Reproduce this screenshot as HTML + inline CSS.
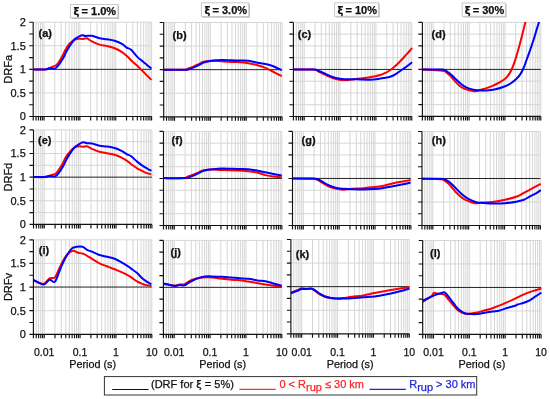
<!DOCTYPE html><html><head><meta charset="utf-8"><title>DRF figure</title><style>html,body{margin:0;padding:0;background:#fff;}svg{display:block;}text{font-family:'Liberation Sans', Arial, sans-serif;stroke-width:0.25px;}</style></head><body>
<svg width="550" height="399" viewBox="0 0 550 399">
<rect width="550" height="399" fill="#fff"/>
<path d="M36.04 22.2V116.5M38.44 22.2V116.5M40.52 22.2V116.5M42.36 22.2V116.5M44 22.2V116.5M54.79 22.2V116.5M61.11 22.2V116.5M65.59 22.2V116.5M69.07 22.2V116.5M71.91 22.2V116.5M74.31 22.2V116.5M76.39 22.2V116.5M78.22 22.2V116.5M79.86 22.2V116.5M90.66 22.2V116.5M96.98 22.2V116.5M101.46 22.2V116.5M104.94 22.2V116.5M107.78 22.2V116.5M110.18 22.2V116.5M112.26 22.2V116.5M114.09 22.2V116.5M115.73 22.2V116.5M126.53 22.2V116.5M132.85 22.2V116.5M137.33 22.2V116.5M140.8 22.2V116.5M143.64 22.2V116.5M146.04 22.2V116.5M148.12 22.2V116.5M149.96 22.2V116.5M151.6 22.2V116.5M33.2 92.92H151.6M33.2 45.78H151.6M33.2 22.2H151.6" stroke="#d6d6d6" stroke-width="1" fill="none"/>
<path d="M33.2 69.35H151.6" stroke="#222" stroke-width="1" fill="none"/>
<clipPath id="cpa"><rect x="33.2" y="21.7" width="119.4" height="95.3"/></clipPath>
<g clip-path="url(#cpa)">
<path d="M33.2 69.4C35.17 69.4 41.9 69.78 45 69.4C48.1 69.02 49.83 67.9 51.8 67.1C53.77 66.3 55.13 66.27 56.8 64.6C58.47 62.93 60.33 59.6 61.8 57.1C63.27 54.6 64.35 51.8 65.6 49.6C66.85 47.4 68.05 45.42 69.3 43.9C70.55 42.38 71.83 41.33 73.1 40.5C74.37 39.67 75.23 39.17 76.9 38.9C78.57 38.63 81.43 39 83.1 38.9C84.77 38.8 85.43 37.88 86.9 38.3C88.37 38.72 89.8 40.35 91.9 41.4C94 42.45 96.98 43.82 99.5 44.6C102.02 45.38 104.48 45.48 107 46.1C109.52 46.72 112.1 47.3 114.6 48.3C117.1 49.3 119.75 50.6 122 52.1C124.25 53.6 126.33 55.68 128.1 57.3C129.87 58.92 131.1 60.42 132.6 61.8C134.1 63.18 135.6 64.22 137.1 65.6C138.6 66.98 140.1 68.6 141.6 70.1C143.1 71.6 144.47 72.97 146.1 74.6C147.73 76.23 150.52 79.02 151.4 79.9" stroke="#f00" stroke-width="2" fill="none" stroke-linejoin="round" stroke-linecap="butt"/>
<path d="M33.2 69.4C35.25 69.4 42.82 69.57 45.5 69.4C48.18 69.23 47.73 68.53 49.3 68.4C50.87 68.27 53.45 69.02 54.9 68.6C56.35 68.18 56.63 67.62 58 65.9C59.37 64.18 61.63 60.82 63.1 58.3C64.57 55.78 65.55 53.08 66.8 50.8C68.05 48.52 69.33 46.48 70.6 44.6C71.87 42.72 73.35 40.65 74.4 39.5C75.45 38.35 75.65 38.42 76.9 37.7C78.15 36.98 80.45 35.48 81.9 35.2C83.35 34.92 83.93 35.9 85.6 36C87.27 36.1 89.58 35.43 91.9 35.8C94.22 36.17 96.98 37.62 99.5 38.2C102.02 38.78 104.48 38.87 107 39.3C109.52 39.73 112.1 40.05 114.6 40.8C117.1 41.55 120 42.67 122 43.8C124 44.93 125.08 46.6 126.6 47.6C128.12 48.6 129.35 48.3 131.1 49.8C132.85 51.3 135.1 54.6 137.1 56.6C139.1 58.6 140.72 59.8 143.1 61.8C145.48 63.8 150.02 67.47 151.4 68.6" stroke="#00f" stroke-width="2" fill="none" stroke-linejoin="round" stroke-linecap="butt"/>
</g>
<path d="M33.2 22.2V116.5M33.2 116.5H151.6M29.2 116.5H33.2M29.2 104.71H33.2M29.2 92.92H33.2M29.2 81.14H33.2M29.2 69.35H33.2M29.2 57.56H33.2M29.2 45.78H33.2M29.2 33.99H33.2M29.2 22.2H33.2M33.2 116.5V120.5M36.04 116.5V120.5M38.44 116.5V120.5M40.52 116.5V120.5M42.36 116.5V120.5M44 116.5V120.5M54.79 116.5V120.5M61.11 116.5V120.5M65.59 116.5V120.5M69.07 116.5V120.5M71.91 116.5V120.5M74.31 116.5V120.5M76.39 116.5V120.5M78.22 116.5V120.5M79.86 116.5V120.5M90.66 116.5V120.5M96.98 116.5V120.5M101.46 116.5V120.5M104.94 116.5V120.5M107.78 116.5V120.5M110.18 116.5V120.5M112.26 116.5V120.5M114.09 116.5V120.5M115.73 116.5V120.5M126.53 116.5V120.5M132.85 116.5V120.5M137.33 116.5V120.5M140.8 116.5V120.5M143.64 116.5V120.5M146.04 116.5V120.5M148.12 116.5V120.5M149.96 116.5V120.5M151.6 116.5V120.5" stroke="#111" stroke-width="1.15" fill="none"/>
<text x="38.6" y="37.3" font-size="11" font-weight="bold" fill="#111" stroke="#111">(a)</text>
<path d="M166.54 22.5V116.8M168.94 22.5V116.8M171.02 22.5V116.8M172.86 22.5V116.8M174.5 22.5V116.8M185.29 22.5V116.8M191.61 22.5V116.8M196.09 22.5V116.8M199.57 22.5V116.8M202.41 22.5V116.8M204.81 22.5V116.8M206.89 22.5V116.8M208.72 22.5V116.8M210.36 22.5V116.8M221.16 22.5V116.8M227.48 22.5V116.8M231.96 22.5V116.8M235.44 22.5V116.8M238.28 22.5V116.8M240.68 22.5V116.8M242.76 22.5V116.8M244.59 22.5V116.8M246.23 22.5V116.8M257.03 22.5V116.8M263.35 22.5V116.8M267.83 22.5V116.8M271.3 22.5V116.8M274.14 22.5V116.8M276.54 22.5V116.8M278.62 22.5V116.8M280.46 22.5V116.8M282.1 22.5V116.8M163.7 93.22H282.1M163.7 46.08H282.1M163.7 22.5H282.1" stroke="#d6d6d6" stroke-width="1" fill="none"/>
<path d="M163.7 69.65H282.1" stroke="#222" stroke-width="1" fill="none"/>
<clipPath id="cpb"><rect x="163.7" y="22" width="119.4" height="95.3"/></clipPath>
<g clip-path="url(#cpb)">
<path d="M163.7 69.7C167.35 69.7 181.72 69.83 185.6 69.7C189.48 69.57 185.75 69.38 187 68.9C188.25 68.42 191.08 67.65 193.1 66.8C195.12 65.95 197.35 64.63 199.1 63.8C200.85 62.97 201.35 62.3 203.6 61.8C205.85 61.3 209.37 60.87 212.6 60.8C215.83 60.73 218.85 61.18 223 61.4C227.15 61.62 233.27 61.8 237.5 62.1C241.73 62.4 245.03 62.68 248.4 63.2C251.77 63.72 254.85 64.43 257.7 65.2C260.55 65.97 263.17 66.83 265.5 67.8C267.83 68.77 268.98 69.62 271.7 71C274.42 72.38 280.12 75.25 281.8 76.1" stroke="#f00" stroke-width="2" fill="none" stroke-linejoin="round" stroke-linecap="butt"/>
<path d="M163.7 69.8C167.35 69.8 181.2 69.95 185.6 69.8C190 69.65 188.6 69.35 190.1 68.9C191.6 68.45 193.1 67.77 194.6 67.1C196.1 66.43 197.6 65.65 199.1 64.9C200.6 64.15 202.1 63.18 203.6 62.6C205.1 62.02 206.1 61.78 208.1 61.4C210.1 61.02 213.12 60.55 215.6 60.3C218.08 60.05 219.35 59.87 223 59.9C226.65 59.93 233.27 60.35 237.5 60.5C241.73 60.65 245.03 60.43 248.4 60.8C251.77 61.17 254.85 62.17 257.7 62.7C260.55 63.23 262.9 63.4 265.5 64C268.1 64.6 270.58 65.27 273.3 66.3C276.02 67.33 280.38 69.55 281.8 70.2" stroke="#00f" stroke-width="2" fill="none" stroke-linejoin="round" stroke-linecap="butt"/>
</g>
<path d="M163.7 22.5V116.8M163.7 116.8H282.1M159.7 116.8H163.7M159.7 105.01H163.7M159.7 93.22H163.7M159.7 81.44H163.7M159.7 69.65H163.7M159.7 57.86H163.7M159.7 46.08H163.7M159.7 34.29H163.7M159.7 22.5H163.7M163.7 116.8V120.8M166.54 116.8V120.8M168.94 116.8V120.8M171.02 116.8V120.8M172.86 116.8V120.8M174.5 116.8V120.8M185.29 116.8V120.8M191.61 116.8V120.8M196.09 116.8V120.8M199.57 116.8V120.8M202.41 116.8V120.8M204.81 116.8V120.8M206.89 116.8V120.8M208.72 116.8V120.8M210.36 116.8V120.8M221.16 116.8V120.8M227.48 116.8V120.8M231.96 116.8V120.8M235.44 116.8V120.8M238.28 116.8V120.8M240.68 116.8V120.8M242.76 116.8V120.8M244.59 116.8V120.8M246.23 116.8V120.8M257.03 116.8V120.8M263.35 116.8V120.8M267.83 116.8V120.8M271.3 116.8V120.8M274.14 116.8V120.8M276.54 116.8V120.8M278.62 116.8V120.8M280.46 116.8V120.8M282.1 116.8V120.8" stroke="#111" stroke-width="1.15" fill="none"/>
<text x="172.6" y="39.3" font-size="11" font-weight="bold" fill="#111" stroke="#111">(b)</text>
<path d="M296.24 22.4V116.5M298.64 22.4V116.5M300.72 22.4V116.5M302.56 22.4V116.5M304.2 22.4V116.5M314.99 22.4V116.5M321.31 22.4V116.5M325.79 22.4V116.5M329.27 22.4V116.5M332.11 22.4V116.5M334.51 22.4V116.5M336.59 22.4V116.5M338.42 22.4V116.5M340.06 22.4V116.5M350.86 22.4V116.5M357.18 22.4V116.5M361.66 22.4V116.5M365.14 22.4V116.5M367.98 22.4V116.5M370.38 22.4V116.5M372.46 22.4V116.5M374.29 22.4V116.5M375.93 22.4V116.5M386.73 22.4V116.5M393.05 22.4V116.5M397.53 22.4V116.5M401 22.4V116.5M403.84 22.4V116.5M406.24 22.4V116.5M408.32 22.4V116.5M410.16 22.4V116.5M411.8 22.4V116.5M293.4 104.74H411.8M293.4 92.97H411.8M293.4 81.21H411.8M293.4 57.69H411.8M293.4 45.93H411.8M293.4 34.16H411.8M293.4 22.4H411.8" stroke="#d6d6d6" stroke-width="1" fill="none"/>
<path d="M293.4 69.45H411.8" stroke="#222" stroke-width="1" fill="none"/>
<clipPath id="cpc"><rect x="293.4" y="21.9" width="119.4" height="95.1"/></clipPath>
<g clip-path="url(#cpc)">
<path d="M293.4 69.5C296.78 69.52 309.58 69.3 313.7 69.6C317.82 69.9 316.65 70.67 318.1 71.3C319.55 71.93 320.77 72.58 322.4 73.4C324.03 74.22 326.08 75.37 327.9 76.2C329.72 77.03 331.48 77.82 333.3 78.4C335.12 78.98 336.97 79.43 338.8 79.7C340.63 79.97 341.93 80.05 344.3 80C346.67 79.95 350.38 79.63 353 79.4C355.62 79.17 357.7 78.87 360 78.6C362.3 78.33 364.55 78.13 366.8 77.8C369.05 77.47 371.25 77.07 373.5 76.6C375.75 76.13 378.23 75.65 380.3 75C382.37 74.35 384.3 73.5 385.9 72.7C387.5 71.9 388.77 70.95 389.9 70.2C391.03 69.45 391.48 69.2 392.7 68.2C393.92 67.2 395.7 65.62 397.2 64.2C398.7 62.78 400.2 61.28 401.7 59.7C403.2 58.12 404.88 56.15 406.2 54.7C407.52 53.25 408.62 52.13 409.6 51C410.58 49.87 411.68 48.42 412.1 47.9" stroke="#f00" stroke-width="2" fill="none" stroke-linejoin="round" stroke-linecap="butt"/>
<path d="M293.4 69.5C296.78 69.5 309.58 69.3 313.7 69.5C317.82 69.7 316.65 70.22 318.1 70.7C319.55 71.18 320.77 71.67 322.4 72.4C324.03 73.13 326.08 74.28 327.9 75.1C329.72 75.92 331.48 76.72 333.3 77.3C335.12 77.88 336.97 78.28 338.8 78.6C340.63 78.92 341.93 79.1 344.3 79.2C346.67 79.3 350.38 79.15 353 79.2C355.62 79.25 357.7 79.42 360 79.5C362.3 79.58 364.55 79.7 366.8 79.7C369.05 79.7 371.25 79.68 373.5 79.5C375.75 79.32 378.03 78.95 380.3 78.6C382.57 78.25 385.22 77.78 387.1 77.4C388.98 77.02 390.1 76.9 391.6 76.3C393.1 75.7 394.6 74.73 396.1 73.8C397.6 72.87 399.1 71.73 400.6 70.7C402.1 69.67 403.6 68.68 405.1 67.6C406.6 66.52 408.43 65.08 409.6 64.2C410.77 63.32 411.68 62.62 412.1 62.3" stroke="#00f" stroke-width="2" fill="none" stroke-linejoin="round" stroke-linecap="butt"/>
</g>
<path d="M293.4 22.4V116.5M293.4 116.5H411.8M289.4 116.5H293.4M289.4 104.74H293.4M289.4 92.97H293.4M289.4 81.21H293.4M289.4 69.45H293.4M289.4 57.69H293.4M289.4 45.93H293.4M289.4 34.16H293.4M289.4 22.4H293.4M293.4 116.5V120.5M296.24 116.5V120.5M298.64 116.5V120.5M300.72 116.5V120.5M302.56 116.5V120.5M304.2 116.5V120.5M314.99 116.5V120.5M321.31 116.5V120.5M325.79 116.5V120.5M329.27 116.5V120.5M332.11 116.5V120.5M334.51 116.5V120.5M336.59 116.5V120.5M338.42 116.5V120.5M340.06 116.5V120.5M350.86 116.5V120.5M357.18 116.5V120.5M361.66 116.5V120.5M365.14 116.5V120.5M367.98 116.5V120.5M370.38 116.5V120.5M372.46 116.5V120.5M374.29 116.5V120.5M375.93 116.5V120.5M386.73 116.5V120.5M393.05 116.5V120.5M397.53 116.5V120.5M401 116.5V120.5M403.84 116.5V120.5M406.24 116.5V120.5M408.32 116.5V120.5M410.16 116.5V120.5M411.8 116.5V120.5" stroke="#111" stroke-width="1.15" fill="none"/>
<text x="297.8" y="38" font-size="11" font-weight="bold" fill="#111" stroke="#111">(c)</text>
<path d="M425.24 22.4V116.4M427.64 22.4V116.4M429.72 22.4V116.4M431.56 22.4V116.4M433.2 22.4V116.4M443.99 22.4V116.4M450.31 22.4V116.4M454.79 22.4V116.4M458.27 22.4V116.4M461.11 22.4V116.4M463.51 22.4V116.4M465.59 22.4V116.4M467.42 22.4V116.4M469.06 22.4V116.4M479.86 22.4V116.4M486.18 22.4V116.4M490.66 22.4V116.4M494.14 22.4V116.4M496.98 22.4V116.4M499.38 22.4V116.4M501.46 22.4V116.4M503.29 22.4V116.4M504.93 22.4V116.4M515.73 22.4V116.4M522.05 22.4V116.4M526.53 22.4V116.4M530 22.4V116.4M532.84 22.4V116.4M535.24 22.4V116.4M537.32 22.4V116.4M539.16 22.4V116.4M540.8 22.4V116.4M422.4 104.65H540.8M422.4 92.9H540.8M422.4 81.15H540.8M422.4 57.65H540.8M422.4 45.9H540.8M422.4 34.15H540.8M422.4 22.4H540.8" stroke="#d6d6d6" stroke-width="1" fill="none"/>
<path d="M422.4 69.4H540.8" stroke="#222" stroke-width="1" fill="none"/>
<clipPath id="cpd"><rect x="422.4" y="21.9" width="119.4" height="95"/></clipPath>
<g clip-path="url(#cpd)">
<path d="M422.4 69.6C425.72 69.8 438.42 70.42 442.3 70.8C446.18 71.18 444.38 71.05 445.7 71.9C447.02 72.75 448.7 74.4 450.2 75.9C451.7 77.4 453.2 79.32 454.7 80.9C456.2 82.48 457.7 84.17 459.2 85.4C460.7 86.63 462 87.5 463.7 88.3C465.4 89.1 467.52 89.7 469.4 90.2C471.28 90.7 472.9 91.43 475 91.3C477.1 91.17 480.33 89.85 482 89.4C483.67 88.95 483.25 89.2 485 88.6C486.75 88 490 86.88 492.5 85.8C495 84.72 497.8 83.35 500 82.1C502.2 80.85 504.13 79.72 505.7 78.3C507.27 76.88 508.3 75.32 509.4 73.6C510.5 71.88 511.35 70.2 512.3 68C513.25 65.8 514.17 63.23 515.1 60.4C516.03 57.57 516.97 54.28 517.9 51C518.83 47.72 519.75 44.3 520.7 40.7C521.65 37.1 522.82 32.52 523.6 29.4C524.38 26.28 525 23.57 525.4 22C525.8 20.43 525.9 20.33 526 20" stroke="#f00" stroke-width="2" fill="none" stroke-linejoin="round" stroke-linecap="butt"/>
<path d="M422.4 69.6C425.72 69.6 438.23 69.32 442.3 69.6C446.37 69.88 445.3 70.45 446.8 71.3C448.3 72.15 449.8 73.38 451.3 74.7C452.8 76.02 454.3 77.78 455.8 79.2C457.3 80.62 458.8 81.97 460.3 83.2C461.8 84.43 463.28 85.7 464.8 86.6C466.32 87.5 467.7 88.03 469.4 88.6C471.1 89.17 472.9 89.68 475 90C477.1 90.32 480.33 90.42 482 90.5C483.67 90.58 482.93 90.65 485 90.5C487.07 90.35 491.27 90.22 494.4 89.6C497.53 88.98 500.98 87.9 503.8 86.8C506.62 85.7 509.1 84.42 511.3 83C513.5 81.58 515.43 79.87 517 78.3C518.57 76.73 519.6 75.32 520.7 73.6C521.8 71.88 522.65 70.2 523.6 68C524.55 65.8 525.32 63.38 526.4 60.4C527.48 57.42 528.85 53.7 530.1 50.1C531.35 46.5 532.8 42.25 533.9 38.8C535 35.35 535.85 32.2 536.7 29.4C537.55 26.6 538.52 23.57 539 22C539.48 20.43 539.5 20.33 539.6 20" stroke="#00f" stroke-width="2" fill="none" stroke-linejoin="round" stroke-linecap="butt"/>
</g>
<path d="M422.4 22.4V116.4M422.4 116.4H540.8M418.4 116.4H422.4M418.4 104.65H422.4M418.4 92.9H422.4M418.4 81.15H422.4M418.4 69.4H422.4M418.4 57.65H422.4M418.4 45.9H422.4M418.4 34.15H422.4M418.4 22.4H422.4M422.4 116.4V120.4M425.24 116.4V120.4M427.64 116.4V120.4M429.72 116.4V120.4M431.56 116.4V120.4M433.2 116.4V120.4M443.99 116.4V120.4M450.31 116.4V120.4M454.79 116.4V120.4M458.27 116.4V120.4M461.11 116.4V120.4M463.51 116.4V120.4M465.59 116.4V120.4M467.42 116.4V120.4M469.06 116.4V120.4M479.86 116.4V120.4M486.18 116.4V120.4M490.66 116.4V120.4M494.14 116.4V120.4M496.98 116.4V120.4M499.38 116.4V120.4M501.46 116.4V120.4M503.29 116.4V120.4M504.93 116.4V120.4M515.73 116.4V120.4M522.05 116.4V120.4M526.53 116.4V120.4M530 116.4V120.4M532.84 116.4V120.4M535.24 116.4V120.4M537.32 116.4V120.4M539.16 116.4V120.4M540.8 116.4V120.4" stroke="#111" stroke-width="1.15" fill="none"/>
<text x="431.6" y="38.3" font-size="11" font-weight="bold" fill="#111" stroke="#111">(d)</text>
<path d="M36.34 129.9V224.4M38.74 129.9V224.4M40.82 129.9V224.4M42.66 129.9V224.4M44.3 129.9V224.4M55.09 129.9V224.4M61.41 129.9V224.4M65.89 129.9V224.4M69.37 129.9V224.4M72.21 129.9V224.4M74.61 129.9V224.4M76.69 129.9V224.4M78.52 129.9V224.4M80.16 129.9V224.4M90.96 129.9V224.4M97.28 129.9V224.4M101.76 129.9V224.4M105.24 129.9V224.4M108.08 129.9V224.4M110.48 129.9V224.4M112.56 129.9V224.4M114.39 129.9V224.4M116.03 129.9V224.4M126.83 129.9V224.4M133.15 129.9V224.4M137.63 129.9V224.4M141.1 129.9V224.4M143.94 129.9V224.4M146.34 129.9V224.4M148.42 129.9V224.4M150.26 129.9V224.4M151.9 129.9V224.4M33.5 212.59H151.9M33.5 200.78H151.9M33.5 188.96H151.9M33.5 165.34H151.9M33.5 153.53H151.9M33.5 141.71H151.9M33.5 129.9H151.9" stroke="#d6d6d6" stroke-width="1" fill="none"/>
<path d="M33.5 177.15H151.9" stroke="#222" stroke-width="1" fill="none"/>
<clipPath id="cpe"><rect x="33.5" y="129.4" width="119.4" height="95.5"/></clipPath>
<g clip-path="url(#cpe)">
<path d="M33.5 177C35.42 177 41.95 177.35 45 177C48.05 176.65 49.93 175.53 51.8 174.9C53.67 174.27 54.53 174.83 56.2 173.2C57.87 171.57 60.23 167.7 61.8 165.1C63.37 162.5 64.35 159.68 65.6 157.6C66.85 155.52 68.05 154.12 69.3 152.6C70.55 151.08 71.63 149.55 73.1 148.5C74.57 147.45 76.43 146.6 78.1 146.3C79.77 146 81.63 146.7 83.1 146.7C84.57 146.7 85.42 145.95 86.9 146.3C88.38 146.65 89.9 147.88 92 148.8C94.1 149.72 97 151.05 99.5 151.8C102 152.55 104.48 152.8 107 153.3C109.52 153.8 112.1 154.05 114.6 154.8C117.1 155.55 119.75 156.67 122 157.8C124.25 158.93 126.33 160.35 128.1 161.6C129.87 162.85 131.1 164.18 132.6 165.3C134.1 166.42 135.6 167.42 137.1 168.3C138.6 169.18 140.1 169.83 141.6 170.6C143.1 171.37 144.47 172.27 146.1 172.9C147.73 173.53 150.52 174.15 151.4 174.4" stroke="#f00" stroke-width="2" fill="none" stroke-linejoin="round" stroke-linecap="butt"/>
<path d="M33.5 177C35.3 177 41.67 177.15 44.3 177C46.93 176.85 47.53 176.2 49.3 176.1C51.07 176 53.43 176.77 54.9 176.4C56.37 176.03 56.73 175.58 58.1 173.9C59.47 172.22 61.65 168.82 63.1 166.3C64.55 163.78 65.55 161.08 66.8 158.8C68.05 156.52 69.33 154.48 70.6 152.6C71.87 150.72 73.15 148.8 74.4 147.5C75.65 146.2 76.65 145.67 78.1 144.8C79.55 143.93 81.63 142.57 83.1 142.3C84.57 142.03 85.42 143 86.9 143.2C88.38 143.4 89.9 143.07 92 143.5C94.1 143.93 97 145.3 99.5 145.8C102 146.3 104.48 146.13 107 146.5C109.52 146.87 112.1 147.23 114.6 148C117.1 148.77 120 150.08 122 151.1C124 152.12 125.08 153.23 126.6 154.1C128.12 154.97 129.35 155.05 131.1 156.3C132.85 157.55 135.1 159.97 137.1 161.6C139.1 163.23 141.35 164.9 143.1 166.1C144.85 167.3 146.22 168 147.6 168.8C148.98 169.6 150.77 170.55 151.4 170.9" stroke="#00f" stroke-width="2" fill="none" stroke-linejoin="round" stroke-linecap="butt"/>
</g>
<path d="M33.5 129.9V224.4M33.5 224.4H151.9M29.5 224.4H33.5M29.5 212.59H33.5M29.5 200.78H33.5M29.5 188.96H33.5M29.5 177.15H33.5M29.5 165.34H33.5M29.5 153.53H33.5M29.5 141.71H33.5M29.5 129.9H33.5M33.5 224.4V228.4M36.34 224.4V228.4M38.74 224.4V228.4M40.82 224.4V228.4M42.66 224.4V228.4M44.3 224.4V228.4M55.09 224.4V228.4M61.41 224.4V228.4M65.89 224.4V228.4M69.37 224.4V228.4M72.21 224.4V228.4M74.61 224.4V228.4M76.69 224.4V228.4M78.52 224.4V228.4M80.16 224.4V228.4M90.96 224.4V228.4M97.28 224.4V228.4M101.76 224.4V228.4M105.24 224.4V228.4M108.08 224.4V228.4M110.48 224.4V228.4M112.56 224.4V228.4M114.39 224.4V228.4M116.03 224.4V228.4M126.83 224.4V228.4M133.15 224.4V228.4M137.63 224.4V228.4M141.1 224.4V228.4M143.94 224.4V228.4M146.34 224.4V228.4M148.42 224.4V228.4M150.26 224.4V228.4M151.9 224.4V228.4" stroke="#111" stroke-width="1.15" fill="none"/>
<text x="38.1" y="143.5" font-size="11" font-weight="bold" fill="#111" stroke="#111">(e)</text>
<path d="M166.34 131.4V225.5M168.74 131.4V225.5M170.82 131.4V225.5M172.66 131.4V225.5M174.3 131.4V225.5M185.09 131.4V225.5M191.41 131.4V225.5M195.89 131.4V225.5M199.37 131.4V225.5M202.21 131.4V225.5M204.61 131.4V225.5M206.69 131.4V225.5M208.52 131.4V225.5M210.16 131.4V225.5M220.96 131.4V225.5M227.28 131.4V225.5M231.76 131.4V225.5M235.24 131.4V225.5M238.08 131.4V225.5M240.48 131.4V225.5M242.56 131.4V225.5M244.39 131.4V225.5M246.03 131.4V225.5M256.83 131.4V225.5M263.15 131.4V225.5M267.63 131.4V225.5M271.1 131.4V225.5M273.94 131.4V225.5M276.34 131.4V225.5M278.42 131.4V225.5M280.26 131.4V225.5M281.9 131.4V225.5M163.5 213.74H281.9M163.5 201.97H281.9M163.5 190.21H281.9M163.5 166.69H281.9M163.5 154.93H281.9M163.5 143.16H281.9M163.5 131.4H281.9" stroke="#d6d6d6" stroke-width="1" fill="none"/>
<path d="M163.5 178.45H281.9" stroke="#222" stroke-width="1" fill="none"/>
<clipPath id="cpf"><rect x="163.5" y="130.9" width="119.4" height="95.1"/></clipPath>
<g clip-path="url(#cpf)">
<path d="M163.5 178.1C167.18 178.1 181.68 178.3 185.6 178.1C189.52 177.9 185.75 177.45 187 176.9C188.25 176.35 191.08 175.6 193.1 174.8C195.12 174 197.35 172.85 199.1 172.1C200.85 171.35 201.35 170.75 203.6 170.3C205.85 169.85 209.53 169.43 212.6 169.4C215.67 169.37 217.85 169.93 222 170.1C226.15 170.27 233.1 170.22 237.5 170.4C241.9 170.58 245.03 170.82 248.4 171.2C251.77 171.58 254.85 172.05 257.7 172.7C260.55 173.35 262.9 174.45 265.5 175.1C268.1 175.75 270.58 176.22 273.3 176.6C276.02 176.98 280.38 177.27 281.8 177.4" stroke="#f00" stroke-width="2" fill="none" stroke-linejoin="round" stroke-linecap="butt"/>
<path d="M163.5 178.1C167.18 178.1 181.17 178.3 185.6 178.1C190.03 177.9 188.6 177.4 190.1 176.9C191.6 176.4 193.1 175.77 194.6 175.1C196.1 174.43 197.6 173.6 199.1 172.9C200.6 172.2 202.1 171.42 203.6 170.9C205.1 170.38 206.1 170.1 208.1 169.8C210.1 169.5 213.28 169.32 215.6 169.1C217.92 168.88 218.35 168.53 222 168.5C225.65 168.47 233.1 168.78 237.5 168.9C241.9 169.02 245.03 168.9 248.4 169.2C251.77 169.5 254.85 170.18 257.7 170.7C260.55 171.22 262.9 171.75 265.5 172.3C268.1 172.85 270.58 173.47 273.3 174C276.02 174.53 280.38 175.25 281.8 175.5" stroke="#00f" stroke-width="2" fill="none" stroke-linejoin="round" stroke-linecap="butt"/>
</g>
<path d="M163.5 131.4V225.5M163.5 225.5H281.9M159.5 225.5H163.5M159.5 213.74H163.5M159.5 201.97H163.5M159.5 190.21H163.5M159.5 178.45H163.5M159.5 166.69H163.5M159.5 154.93H163.5M159.5 143.16H163.5M159.5 131.4H163.5M163.5 225.5V229.5M166.34 225.5V229.5M168.74 225.5V229.5M170.82 225.5V229.5M172.66 225.5V229.5M174.3 225.5V229.5M185.09 225.5V229.5M191.41 225.5V229.5M195.89 225.5V229.5M199.37 225.5V229.5M202.21 225.5V229.5M204.61 225.5V229.5M206.69 225.5V229.5M208.52 225.5V229.5M210.16 225.5V229.5M220.96 225.5V229.5M227.28 225.5V229.5M231.76 225.5V229.5M235.24 225.5V229.5M238.08 225.5V229.5M240.48 225.5V229.5M242.56 225.5V229.5M244.39 225.5V229.5M246.03 225.5V229.5M256.83 225.5V229.5M263.15 225.5V229.5M267.63 225.5V229.5M271.1 225.5V229.5M273.94 225.5V229.5M276.34 225.5V229.5M278.42 225.5V229.5M280.26 225.5V229.5M281.9 225.5V229.5" stroke="#111" stroke-width="1.15" fill="none"/>
<text x="171.6" y="144.3" font-size="11" font-weight="bold" fill="#111" stroke="#111">(f)</text>
<path d="M295.34 131.4V225.5M297.74 131.4V225.5M299.82 131.4V225.5M301.66 131.4V225.5M303.3 131.4V225.5M314.09 131.4V225.5M320.41 131.4V225.5M324.89 131.4V225.5M328.37 131.4V225.5M331.21 131.4V225.5M333.61 131.4V225.5M335.69 131.4V225.5M337.52 131.4V225.5M339.16 131.4V225.5M349.96 131.4V225.5M356.28 131.4V225.5M360.76 131.4V225.5M364.24 131.4V225.5M367.08 131.4V225.5M369.48 131.4V225.5M371.56 131.4V225.5M373.39 131.4V225.5M375.03 131.4V225.5M385.83 131.4V225.5M392.15 131.4V225.5M396.63 131.4V225.5M400.1 131.4V225.5M402.94 131.4V225.5M405.34 131.4V225.5M407.42 131.4V225.5M409.26 131.4V225.5M410.9 131.4V225.5M292.5 213.74H410.9M292.5 201.97H410.9M292.5 190.21H410.9M292.5 166.69H410.9M292.5 154.93H410.9M292.5 143.16H410.9M292.5 131.4H410.9" stroke="#d6d6d6" stroke-width="1" fill="none"/>
<path d="M292.5 178.45H410.9" stroke="#222" stroke-width="1" fill="none"/>
<clipPath id="cpg"><rect x="292.5" y="130.9" width="119.4" height="95.1"/></clipPath>
<g clip-path="url(#cpg)">
<path d="M292.5 178.5C295.97 178.55 308.9 178.43 313.3 178.8C317.7 179.17 317.22 179.93 318.9 180.7C320.58 181.47 321.88 182.52 323.4 183.4C324.92 184.28 326.48 185.28 328 186C329.52 186.72 330.82 187.2 332.5 187.7C334.18 188.2 336.23 188.67 338.1 189C339.97 189.33 341.38 189.75 343.7 189.7C346.02 189.65 348.73 188.95 352 188.7C355.27 188.45 359.55 188.47 363.3 188.2C367.05 187.93 371.12 187.52 374.5 187.1C377.88 186.68 380.77 186.27 383.6 185.7C386.43 185.13 388.87 184.32 391.5 183.7C394.13 183.08 396.97 182.47 399.4 182C401.83 181.53 404.23 181.22 406.1 180.9C407.97 180.58 409.85 180.23 410.6 180.1" stroke="#f00" stroke-width="2" fill="none" stroke-linejoin="round" stroke-linecap="butt"/>
<path d="M292.5 178.5C295.97 178.5 308.9 178.28 313.3 178.5C317.7 178.72 317.22 179.17 318.9 179.8C320.58 180.43 321.88 181.45 323.4 182.3C324.92 183.15 326.48 184.15 328 184.9C329.52 185.65 330.82 186.23 332.5 186.8C334.18 187.37 336.23 187.97 338.1 188.3C339.97 188.63 341.38 188.65 343.7 188.8C346.02 188.95 348.73 189.08 352 189.2C355.27 189.32 359.55 189.52 363.3 189.5C367.05 189.48 371.12 189.35 374.5 189.1C377.88 188.85 380.77 188.43 383.6 188C386.43 187.57 388.87 187 391.5 186.5C394.13 186 396.97 185.47 399.4 185C401.83 184.53 404.23 184.12 406.1 183.7C407.97 183.28 409.85 182.7 410.6 182.5" stroke="#00f" stroke-width="2" fill="none" stroke-linejoin="round" stroke-linecap="butt"/>
</g>
<path d="M292.5 131.4V225.5M292.5 225.5H410.9M288.5 225.5H292.5M288.5 213.74H292.5M288.5 201.97H292.5M288.5 190.21H292.5M288.5 178.45H292.5M288.5 166.69H292.5M288.5 154.93H292.5M288.5 143.16H292.5M288.5 131.4H292.5M292.5 225.5V229.5M295.34 225.5V229.5M297.74 225.5V229.5M299.82 225.5V229.5M301.66 225.5V229.5M303.3 225.5V229.5M314.09 225.5V229.5M320.41 225.5V229.5M324.89 225.5V229.5M328.37 225.5V229.5M331.21 225.5V229.5M333.61 225.5V229.5M335.69 225.5V229.5M337.52 225.5V229.5M339.16 225.5V229.5M349.96 225.5V229.5M356.28 225.5V229.5M360.76 225.5V229.5M364.24 225.5V229.5M367.08 225.5V229.5M369.48 225.5V229.5M371.56 225.5V229.5M373.39 225.5V229.5M375.03 225.5V229.5M385.83 225.5V229.5M392.15 225.5V229.5M396.63 225.5V229.5M400.1 225.5V229.5M402.94 225.5V229.5M405.34 225.5V229.5M407.42 225.5V229.5M409.26 225.5V229.5M410.9 225.5V229.5" stroke="#111" stroke-width="1.15" fill="none"/>
<text x="301.6" y="144.3" font-size="11" font-weight="bold" fill="#111" stroke="#111">(g)</text>
<path d="M424.84 131.5V225.5M427.24 131.5V225.5M429.32 131.5V225.5M431.16 131.5V225.5M432.8 131.5V225.5M443.59 131.5V225.5M449.91 131.5V225.5M454.39 131.5V225.5M457.87 131.5V225.5M460.71 131.5V225.5M463.11 131.5V225.5M465.19 131.5V225.5M467.02 131.5V225.5M468.66 131.5V225.5M479.46 131.5V225.5M485.78 131.5V225.5M490.26 131.5V225.5M493.74 131.5V225.5M496.58 131.5V225.5M498.98 131.5V225.5M501.06 131.5V225.5M502.89 131.5V225.5M504.53 131.5V225.5M515.33 131.5V225.5M521.65 131.5V225.5M526.13 131.5V225.5M529.6 131.5V225.5M532.44 131.5V225.5M534.84 131.5V225.5M536.92 131.5V225.5M538.76 131.5V225.5M540.4 131.5V225.5M422 202H540.4M422 155H540.4M422 131.5H540.4" stroke="#d6d6d6" stroke-width="1" fill="none"/>
<path d="M422 178.5H540.4" stroke="#222" stroke-width="1" fill="none"/>
<clipPath id="cph"><rect x="422" y="131" width="119.4" height="95"/></clipPath>
<g clip-path="url(#cph)">
<path d="M422 178.7C425.13 178.78 437.03 178.87 440.8 179.2C444.57 179.53 443.13 179.77 444.6 180.7C446.07 181.63 447.93 183.13 449.6 184.8C451.27 186.47 452.93 188.88 454.6 190.7C456.27 192.52 457.93 194.23 459.6 195.7C461.27 197.17 462.72 198.45 464.6 199.5C466.48 200.55 469.02 201.38 470.9 202C472.78 202.62 474.05 203.1 475.9 203.2C477.75 203.3 479.23 202.8 482 202.6C484.77 202.4 488.65 202.47 492.5 202C496.35 201.53 500.92 200.75 505.1 199.8C509.28 198.85 514.47 197.47 517.6 196.3C520.73 195.13 521.4 194.15 523.9 192.8C526.4 191.45 529.78 189.7 532.6 188.2C535.42 186.7 539.43 184.53 540.8 183.8" stroke="#f00" stroke-width="2" fill="none" stroke-linejoin="round" stroke-linecap="butt"/>
<path d="M422 178.7C425.13 178.7 436.83 178.52 440.8 178.7C444.77 178.88 444.13 179.05 445.8 179.8C447.47 180.55 449.13 181.8 450.8 183.2C452.47 184.6 454.13 186.53 455.8 188.2C457.47 189.87 459.12 191.68 460.8 193.2C462.48 194.72 464.02 196.05 465.9 197.3C467.78 198.55 470.23 199.85 472.1 200.7C473.97 201.55 475.45 202.03 477.1 202.4C478.75 202.77 479.43 202.7 482 202.9C484.57 203.1 488.65 203.55 492.5 203.6C496.35 203.65 500.92 203.57 505.1 203.2C509.28 202.83 514.47 201.97 517.6 201.4C520.73 200.83 521.82 200.65 523.9 199.8C525.98 198.95 528.02 197.4 530.1 196.3C532.18 195.2 534.62 194.23 536.4 193.2C538.18 192.17 540.07 190.62 540.8 190.1" stroke="#00f" stroke-width="2" fill="none" stroke-linejoin="round" stroke-linecap="butt"/>
</g>
<path d="M422 131.5V225.5M422 225.5H540.4M418 225.5H422M418 213.75H422M418 202H422M418 190.25H422M418 178.5H422M418 166.75H422M418 155H422M418 143.25H422M418 131.5H422M422 225.5V229.5M424.84 225.5V229.5M427.24 225.5V229.5M429.32 225.5V229.5M431.16 225.5V229.5M432.8 225.5V229.5M443.59 225.5V229.5M449.91 225.5V229.5M454.39 225.5V229.5M457.87 225.5V229.5M460.71 225.5V229.5M463.11 225.5V229.5M465.19 225.5V229.5M467.02 225.5V229.5M468.66 225.5V229.5M479.46 225.5V229.5M485.78 225.5V229.5M490.26 225.5V229.5M493.74 225.5V229.5M496.58 225.5V229.5M498.98 225.5V229.5M501.06 225.5V229.5M502.89 225.5V229.5M504.53 225.5V229.5M515.33 225.5V229.5M521.65 225.5V229.5M526.13 225.5V229.5M529.6 225.5V229.5M532.44 225.5V229.5M534.84 225.5V229.5M536.92 225.5V229.5M538.76 225.5V229.5M540.4 225.5V229.5" stroke="#111" stroke-width="1.15" fill="none"/>
<text x="431.8" y="144" font-size="11" font-weight="bold" fill="#111" stroke="#111">(h)</text>
<path d="M36.24 239.8V334.3M38.64 239.8V334.3M40.72 239.8V334.3M42.56 239.8V334.3M44.2 239.8V334.3M54.99 239.8V334.3M61.31 239.8V334.3M65.79 239.8V334.3M69.27 239.8V334.3M72.11 239.8V334.3M74.51 239.8V334.3M76.59 239.8V334.3M78.42 239.8V334.3M80.06 239.8V334.3M90.86 239.8V334.3M97.18 239.8V334.3M101.66 239.8V334.3M105.14 239.8V334.3M107.98 239.8V334.3M110.38 239.8V334.3M112.46 239.8V334.3M114.29 239.8V334.3M115.93 239.8V334.3M126.73 239.8V334.3M133.05 239.8V334.3M137.53 239.8V334.3M141 239.8V334.3M143.84 239.8V334.3M146.24 239.8V334.3M148.32 239.8V334.3M150.16 239.8V334.3M151.8 239.8V334.3M33.4 310.68H151.8M33.4 263.43H151.8M33.4 239.8H151.8" stroke="#d6d6d6" stroke-width="1" fill="none"/>
<path d="M33.4 287.05H151.8" stroke="#222" stroke-width="1" fill="none"/>
<clipPath id="cpi"><rect x="33.4" y="239.3" width="119.4" height="95.5"/></clipPath>
<g clip-path="url(#cpi)">
<path d="M33.4 280.3C35.08 280.9 40.82 284.23 43.5 283.9C46.18 283.57 47.62 279.35 49.5 278.3C51.38 277.25 53.28 278.97 54.8 277.6C56.32 276.23 57.35 272.65 58.6 270.1C59.85 267.55 60.93 264.82 62.3 262.3C63.67 259.78 65.05 256.92 66.8 255C68.55 253.08 70.92 251.17 72.8 250.8C74.68 250.43 76.47 252.35 78.1 252.8C79.73 253.25 81.1 253 82.6 253.5C84.1 254 85.53 254.92 87.1 255.8C88.67 256.68 89.93 257.55 92 258.8C94.07 260.05 97 262.05 99.5 263.3C102 264.55 104.48 265.3 107 266.3C109.52 267.3 112.1 268.3 114.6 269.3C117.1 270.3 119.75 271.3 122 272.3C124.25 273.3 126.33 274.3 128.1 275.3C129.87 276.3 131.1 277.28 132.6 278.3C134.1 279.32 135.6 280.52 137.1 281.4C138.6 282.28 140.1 282.98 141.6 283.6C143.1 284.22 144.47 284.72 146.1 285.1C147.73 285.48 150.52 285.77 151.4 285.9" stroke="#f00" stroke-width="2" fill="none" stroke-linejoin="round" stroke-linecap="butt"/>
<path d="M33.4 279.8C35.08 280.57 40.82 284.4 43.5 284.4C46.18 284.4 47.62 280.23 49.5 279.8C51.38 279.37 53.17 283.17 54.8 281.8C56.43 280.43 57.92 274.8 59.3 271.6C60.68 268.4 61.72 265.48 63.1 262.6C64.48 259.72 66.1 256.68 67.6 254.3C69.1 251.92 70.6 249.55 72.1 248.3C73.6 247.05 74.85 247.05 76.6 246.8C78.35 246.55 80.85 246.3 82.6 246.8C84.35 247.3 85.53 248.98 87.1 249.8C88.67 250.62 89.93 250.83 92 251.7C94.07 252.57 97 254.15 99.5 255C102 255.85 104.48 256.17 107 256.8C109.52 257.43 112.1 257.83 114.6 258.8C117.1 259.77 119.75 261.35 122 262.6C124.25 263.85 126.58 265.3 128.1 266.3C129.62 267.3 129.6 267.47 131.1 268.6C132.6 269.73 135.1 271.35 137.1 273.1C139.1 274.85 141.35 277.6 143.1 279.1C144.85 280.6 146.22 281.22 147.6 282.1C148.98 282.98 150.77 284.02 151.4 284.4" stroke="#00f" stroke-width="2" fill="none" stroke-linejoin="round" stroke-linecap="butt"/>
</g>
<path d="M33.4 239.8V334.3M33.4 334.3H151.8M29.4 334.3H33.4M29.4 322.49H33.4M29.4 310.68H33.4M29.4 298.86H33.4M29.4 287.05H33.4M29.4 275.24H33.4M29.4 263.43H33.4M29.4 251.61H33.4M29.4 239.8H33.4M33.4 334.3V338.3M36.24 334.3V338.3M38.64 334.3V338.3M40.72 334.3V338.3M42.56 334.3V338.3M44.2 334.3V338.3M54.99 334.3V338.3M61.31 334.3V338.3M65.79 334.3V338.3M69.27 334.3V338.3M72.11 334.3V338.3M74.51 334.3V338.3M76.59 334.3V338.3M78.42 334.3V338.3M80.06 334.3V338.3M90.86 334.3V338.3M97.18 334.3V338.3M101.66 334.3V338.3M105.14 334.3V338.3M107.98 334.3V338.3M110.38 334.3V338.3M112.46 334.3V338.3M114.29 334.3V338.3M115.93 334.3V338.3M126.73 334.3V338.3M133.05 334.3V338.3M137.53 334.3V338.3M141 334.3V338.3M143.84 334.3V338.3M146.24 334.3V338.3M148.32 334.3V338.3M150.16 334.3V338.3M151.8 334.3V338.3" stroke="#111" stroke-width="1.15" fill="none"/>
<text x="38.8" y="253.8" font-size="11" font-weight="bold" fill="#111" stroke="#111">(i)</text>
<path d="M166.24 240.4V334.3M168.64 240.4V334.3M170.72 240.4V334.3M172.56 240.4V334.3M174.2 240.4V334.3M184.99 240.4V334.3M191.31 240.4V334.3M195.79 240.4V334.3M199.27 240.4V334.3M202.11 240.4V334.3M204.51 240.4V334.3M206.59 240.4V334.3M208.42 240.4V334.3M210.06 240.4V334.3M220.86 240.4V334.3M227.18 240.4V334.3M231.66 240.4V334.3M235.14 240.4V334.3M237.98 240.4V334.3M240.38 240.4V334.3M242.46 240.4V334.3M244.29 240.4V334.3M245.93 240.4V334.3M256.73 240.4V334.3M263.05 240.4V334.3M267.53 240.4V334.3M271 240.4V334.3M273.84 240.4V334.3M276.24 240.4V334.3M278.32 240.4V334.3M280.16 240.4V334.3M281.8 240.4V334.3M163.4 310.82H281.8M163.4 263.88H281.8M163.4 240.4H281.8" stroke="#d6d6d6" stroke-width="1" fill="none"/>
<path d="M163.4 287.35H281.8" stroke="#222" stroke-width="1" fill="none"/>
<clipPath id="cpj"><rect x="163.4" y="239.9" width="119.4" height="94.9"/></clipPath>
<g clip-path="url(#cpj)">
<path d="M163.4 283.9C165.33 284.18 172.32 285.5 175 285.6C177.68 285.7 177.98 284.7 179.5 284.5C181.02 284.3 182.72 284.8 184.1 284.4C185.48 284 186.43 282.87 187.8 282.1C189.17 281.33 190.42 280.5 192.3 279.8C194.18 279.1 196.97 278.32 199.1 277.9C201.23 277.48 202.85 277.35 205.1 277.3C207.35 277.25 209.78 277.35 212.6 277.6C215.42 277.85 217.85 278.38 222 278.8C226.15 279.22 233.1 279.63 237.5 280.1C241.9 280.57 245.03 281.08 248.4 281.6C251.77 282.12 254.85 282.7 257.7 283.2C260.55 283.7 262.9 284.17 265.5 284.6C268.1 285.03 270.58 285.47 273.3 285.8C276.02 286.13 280.38 286.47 281.8 286.6" stroke="#f00" stroke-width="2" fill="none" stroke-linejoin="round" stroke-linecap="butt"/>
<path d="M163.4 283.6C164.33 283.8 167.07 284.42 169 284.8C170.93 285.18 173.25 285.85 175 285.9C176.75 285.95 177.98 285.18 179.5 285.1C181.02 285.02 182.58 285.77 184.1 285.4C185.62 285.03 187.1 283.75 188.6 282.9C190.1 282.05 191.35 281.13 193.1 280.3C194.85 279.47 197.1 278.53 199.1 277.9C201.1 277.27 202.85 276.75 205.1 276.5C207.35 276.25 209.78 276.35 212.6 276.4C215.42 276.45 217.85 276.52 222 276.8C226.15 277.08 233.1 277.77 237.5 278.1C241.9 278.43 245.03 278.42 248.4 278.8C251.77 279.18 254.85 280 257.7 280.4C260.55 280.8 262.9 280.68 265.5 281.2C268.1 281.72 270.58 282.73 273.3 283.5C276.02 284.27 280.38 285.42 281.8 285.8" stroke="#00f" stroke-width="2" fill="none" stroke-linejoin="round" stroke-linecap="butt"/>
</g>
<path d="M163.4 240.4V334.3M163.4 334.3H281.8M159.4 334.3H163.4M159.4 322.56H163.4M159.4 310.82H163.4M159.4 299.09H163.4M159.4 287.35H163.4M159.4 275.61H163.4M159.4 263.88H163.4M159.4 252.14H163.4M159.4 240.4H163.4M163.4 334.3V338.3M166.24 334.3V338.3M168.64 334.3V338.3M170.72 334.3V338.3M172.56 334.3V338.3M174.2 334.3V338.3M184.99 334.3V338.3M191.31 334.3V338.3M195.79 334.3V338.3M199.27 334.3V338.3M202.11 334.3V338.3M204.51 334.3V338.3M206.59 334.3V338.3M208.42 334.3V338.3M210.06 334.3V338.3M220.86 334.3V338.3M227.18 334.3V338.3M231.66 334.3V338.3M235.14 334.3V338.3M237.98 334.3V338.3M240.38 334.3V338.3M242.46 334.3V338.3M244.29 334.3V338.3M245.93 334.3V338.3M256.73 334.3V338.3M263.05 334.3V338.3M267.53 334.3V338.3M271 334.3V338.3M273.84 334.3V338.3M276.24 334.3V338.3M278.32 334.3V338.3M280.16 334.3V338.3M281.8 334.3V338.3" stroke="#111" stroke-width="1.15" fill="none"/>
<text x="170.6" y="256.3" font-size="11" font-weight="bold" fill="#111" stroke="#111">(j)</text>
<path d="M293.74 239.5V333.8M296.14 239.5V333.8M298.22 239.5V333.8M300.06 239.5V333.8M301.7 239.5V333.8M312.49 239.5V333.8M318.81 239.5V333.8M323.29 239.5V333.8M326.77 239.5V333.8M329.61 239.5V333.8M332.01 239.5V333.8M334.09 239.5V333.8M335.92 239.5V333.8M337.56 239.5V333.8M348.36 239.5V333.8M354.68 239.5V333.8M359.16 239.5V333.8M362.64 239.5V333.8M365.48 239.5V333.8M367.88 239.5V333.8M369.96 239.5V333.8M371.79 239.5V333.8M373.43 239.5V333.8M384.23 239.5V333.8M390.55 239.5V333.8M395.03 239.5V333.8M398.5 239.5V333.8M401.34 239.5V333.8M403.74 239.5V333.8M405.82 239.5V333.8M407.66 239.5V333.8M409.3 239.5V333.8M290.9 310.23H409.3M290.9 263.07H409.3M290.9 239.5H409.3" stroke="#d6d6d6" stroke-width="1" fill="none"/>
<path d="M290.9 286.65H409.3" stroke="#222" stroke-width="1" fill="none"/>
<clipPath id="cpk"><rect x="290.9" y="239" width="119.4" height="95.3"/></clipPath>
<g clip-path="url(#cpk)">
<path d="M290.9 292.8C291.98 292.37 295.6 290.95 297.4 290.2C299.2 289.45 300.25 288.53 301.7 288.3C303.15 288.07 304.47 288.72 306.1 288.8C307.73 288.88 310.05 288.48 311.5 288.8C312.95 289.12 313.52 289.8 314.8 290.7C316.08 291.6 317.57 293.2 319.2 294.2C320.83 295.2 322.78 296.05 324.6 296.7C326.42 297.35 328.1 297.78 330.1 298.1C332.1 298.42 334.42 298.6 336.6 298.6C338.78 298.6 340.63 298.4 343.2 298.1C345.77 297.8 348.65 297.25 352 296.8C355.35 296.35 359.55 296.02 363.3 295.4C367.05 294.78 370.75 293.85 374.5 293.1C378.25 292.35 382.03 291.6 385.8 290.9C389.57 290.2 393.15 289.53 397.1 288.9C401.05 288.27 407.43 287.4 409.5 287.1" stroke="#f00" stroke-width="2" fill="none" stroke-linejoin="round" stroke-linecap="butt"/>
<path d="M290.9 293.2C291.98 292.78 295.6 291.38 297.4 290.7C299.2 290.02 300.25 289.37 301.7 289.1C303.15 288.83 304.47 289.2 306.1 289.1C307.73 289 310.05 288.32 311.5 288.5C312.95 288.68 313.52 289.38 314.8 290.2C316.08 291.02 317.57 292.4 319.2 293.4C320.83 294.4 322.78 295.47 324.6 296.2C326.42 296.93 328.1 297.4 330.1 297.8C332.1 298.2 334.42 298.47 336.6 298.6C338.78 298.73 340.63 298.67 343.2 298.6C345.77 298.53 348.65 298.42 352 298.2C355.35 297.98 359.55 297.58 363.3 297.3C367.05 297.02 370.75 296.95 374.5 296.5C378.25 296.05 382.03 295.35 385.8 294.6C389.57 293.85 393.15 293 397.1 292C401.05 291 407.43 289.17 409.5 288.6" stroke="#00f" stroke-width="2" fill="none" stroke-linejoin="round" stroke-linecap="butt"/>
</g>
<path d="M290.9 239.5V333.8M290.9 333.8H409.3M286.9 333.8H290.9M286.9 322.01H290.9M286.9 310.23H290.9M286.9 298.44H290.9M286.9 286.65H290.9M286.9 274.86H290.9M286.9 263.07H290.9M286.9 251.29H290.9M286.9 239.5H290.9M290.9 333.8V337.8M293.74 333.8V337.8M296.14 333.8V337.8M298.22 333.8V337.8M300.06 333.8V337.8M301.7 333.8V337.8M312.49 333.8V337.8M318.81 333.8V337.8M323.29 333.8V337.8M326.77 333.8V337.8M329.61 333.8V337.8M332.01 333.8V337.8M334.09 333.8V337.8M335.92 333.8V337.8M337.56 333.8V337.8M348.36 333.8V337.8M354.68 333.8V337.8M359.16 333.8V337.8M362.64 333.8V337.8M365.48 333.8V337.8M367.88 333.8V337.8M369.96 333.8V337.8M371.79 333.8V337.8M373.43 333.8V337.8M384.23 333.8V337.8M390.55 333.8V337.8M395.03 333.8V337.8M398.5 333.8V337.8M401.34 333.8V337.8M403.74 333.8V337.8M405.82 333.8V337.8M407.66 333.8V337.8M409.3 333.8V337.8" stroke="#111" stroke-width="1.15" fill="none"/>
<text x="295.8" y="258" font-size="11" font-weight="bold" fill="#111" stroke="#111">(k)</text>
<path d="M425.54 240.5V334.4M427.94 240.5V334.4M430.02 240.5V334.4M431.86 240.5V334.4M433.5 240.5V334.4M444.29 240.5V334.4M450.61 240.5V334.4M455.09 240.5V334.4M458.57 240.5V334.4M461.41 240.5V334.4M463.81 240.5V334.4M465.89 240.5V334.4M467.72 240.5V334.4M469.36 240.5V334.4M480.16 240.5V334.4M486.48 240.5V334.4M490.96 240.5V334.4M494.44 240.5V334.4M497.28 240.5V334.4M499.68 240.5V334.4M501.76 240.5V334.4M503.59 240.5V334.4M505.23 240.5V334.4M516.03 240.5V334.4M522.35 240.5V334.4M526.83 240.5V334.4M530.3 240.5V334.4M533.14 240.5V334.4M535.54 240.5V334.4M537.62 240.5V334.4M539.46 240.5V334.4M541.1 240.5V334.4M422.7 310.92H541.1M422.7 263.98H541.1M422.7 240.5H541.1" stroke="#d6d6d6" stroke-width="1" fill="none"/>
<path d="M422.7 287.45H541.1" stroke="#222" stroke-width="1" fill="none"/>
<clipPath id="cpl"><rect x="422.7" y="240" width="119.4" height="94.9"/></clipPath>
<g clip-path="url(#cpl)">
<path d="M422.7 302C423.42 301.52 425.45 300.15 427 299.1C428.55 298.05 430.85 296.75 432 295.7C433.15 294.65 433.07 293.15 433.9 292.8C434.73 292.45 435.85 293.43 437 293.6C438.15 293.77 439.53 293.6 440.8 293.8C442.07 294 443.35 293.87 444.6 294.8C445.85 295.73 447.05 297.9 448.3 299.4C449.55 300.9 450.85 302.33 452.1 303.8C453.35 305.27 454.55 306.93 455.8 308.2C457.05 309.47 458.13 310.5 459.6 311.4C461.07 312.3 462.72 313.23 464.6 313.6C466.48 313.97 468.82 313.77 470.9 313.6C472.98 313.43 475.25 313.02 477.1 312.6C478.95 312.18 479.43 311.83 482 311.1C484.57 310.37 488.65 309.52 492.5 308.2C496.35 306.88 501.33 304.8 505.1 303.2C508.87 301.6 511.97 300.07 515.1 298.6C518.23 297.13 520.98 295.65 523.9 294.4C526.82 293.15 529.68 292.08 532.6 291.1C535.52 290.12 539.93 288.93 541.4 288.5" stroke="#f00" stroke-width="2" fill="none" stroke-linejoin="round" stroke-linecap="butt"/>
<path d="M422.7 300.7C423.42 300.35 425.45 299.33 427 298.6C428.55 297.87 430.33 297 432 296.3C433.67 295.6 435.53 294.92 437 294.4C438.47 293.88 439.53 293.55 440.8 293.2C442.07 292.85 443.35 291.78 444.6 292.3C445.85 292.82 447.05 294.8 448.3 296.3C449.55 297.8 450.85 299.63 452.1 301.3C453.35 302.97 454.55 304.83 455.8 306.3C457.05 307.77 458.13 308.95 459.6 310.1C461.07 311.25 462.72 312.53 464.6 313.2C466.48 313.87 468.82 313.95 470.9 314.1C472.98 314.25 475.25 314.25 477.1 314.1C478.95 313.95 479.43 313.62 482 313.2C484.57 312.78 489.7 312.02 492.5 311.6C495.3 311.18 496.7 311.2 498.8 310.7C500.9 310.2 502.38 309.43 505.1 308.6C507.82 307.77 513.02 306.38 515.1 305.7C517.18 305.02 516.13 304.98 517.6 304.5C519.07 304.02 521.82 303.53 523.9 302.8C525.98 302.07 528.23 301.13 530.1 300.1C531.97 299.07 533.22 297.85 535.1 296.6C536.98 295.35 540.35 293.27 541.4 292.6" stroke="#00f" stroke-width="2" fill="none" stroke-linejoin="round" stroke-linecap="butt"/>
</g>
<path d="M422.7 240.5V334.4M422.7 334.4H541.1M418.7 334.4H422.7M418.7 322.66H422.7M418.7 310.92H422.7M418.7 299.19H422.7M418.7 287.45H422.7M418.7 275.71H422.7M418.7 263.98H422.7M418.7 252.24H422.7M418.7 240.5H422.7M422.7 334.4V338.4M425.54 334.4V338.4M427.94 334.4V338.4M430.02 334.4V338.4M431.86 334.4V338.4M433.5 334.4V338.4M444.29 334.4V338.4M450.61 334.4V338.4M455.09 334.4V338.4M458.57 334.4V338.4M461.41 334.4V338.4M463.81 334.4V338.4M465.89 334.4V338.4M467.72 334.4V338.4M469.36 334.4V338.4M480.16 334.4V338.4M486.48 334.4V338.4M490.96 334.4V338.4M494.44 334.4V338.4M497.28 334.4V338.4M499.68 334.4V338.4M501.76 334.4V338.4M503.59 334.4V338.4M505.23 334.4V338.4M516.03 334.4V338.4M522.35 334.4V338.4M526.83 334.4V338.4M530.3 334.4V338.4M533.14 334.4V338.4M535.54 334.4V338.4M537.62 334.4V338.4M539.46 334.4V338.4M541.1 334.4V338.4" stroke="#111" stroke-width="1.15" fill="none"/>
<text x="430.1" y="257" font-size="11" font-weight="bold" fill="#111" stroke="#111">(l)</text>
<text x="25.8" y="120.45" font-size="11" text-anchor="end" fill="#111" stroke="#111">0</text>
<text x="25.8" y="96.88" font-size="11" text-anchor="end" fill="#111" stroke="#111">0.5</text>
<text x="25.8" y="73.3" font-size="11" text-anchor="end" fill="#111" stroke="#111">1</text>
<text x="25.8" y="49.73" font-size="11" text-anchor="end" fill="#111" stroke="#111">1.5</text>
<text x="25.8" y="26.15" font-size="11" text-anchor="end" fill="#111" stroke="#111">2</text>
<text transform="translate(12.1 69.35) rotate(-90)" font-size="11" text-anchor="middle" fill="#111" stroke="#111">DRFa</text>
<text x="25.8" y="228.35" font-size="11" text-anchor="end" fill="#111" stroke="#111">0</text>
<text x="25.8" y="204.72" font-size="11" text-anchor="end" fill="#111" stroke="#111">0.5</text>
<text x="25.8" y="181.1" font-size="11" text-anchor="end" fill="#111" stroke="#111">1</text>
<text x="25.8" y="157.47" font-size="11" text-anchor="end" fill="#111" stroke="#111">1.5</text>
<text x="25.8" y="133.85" font-size="11" text-anchor="end" fill="#111" stroke="#111">2</text>
<text transform="translate(12.1 177.15) rotate(-90)" font-size="11" text-anchor="middle" fill="#111" stroke="#111">DRFd</text>
<text x="25.8" y="338.25" font-size="11" text-anchor="end" fill="#111" stroke="#111">0</text>
<text x="25.8" y="314.62" font-size="11" text-anchor="end" fill="#111" stroke="#111">0.5</text>
<text x="25.8" y="291" font-size="11" text-anchor="end" fill="#111" stroke="#111">1</text>
<text x="25.8" y="267.38" font-size="11" text-anchor="end" fill="#111" stroke="#111">1.5</text>
<text x="25.8" y="243.75" font-size="11" text-anchor="end" fill="#111" stroke="#111">2</text>
<text transform="translate(12.1 287.05) rotate(-90)" font-size="11" text-anchor="middle" fill="#111" stroke="#111">DRFv</text>
<text x="44.2" y="355.8" font-size="10.5" text-anchor="middle" fill="#111" stroke="#111">0.01</text>
<text x="80.06" y="355.8" font-size="10.5" text-anchor="middle" fill="#111" stroke="#111">0.1</text>
<text x="115.93" y="355.8" font-size="10.5" text-anchor="middle" fill="#111" stroke="#111">1</text>
<text x="151.8" y="355.8" font-size="10.5" text-anchor="middle" fill="#111" stroke="#111">10</text>
<text x="92.6" y="368.2" font-size="10.8" text-anchor="middle" fill="#111" stroke="#111">Period (s)</text>
<text x="174.2" y="355.8" font-size="10.5" text-anchor="middle" fill="#111" stroke="#111">0.01</text>
<text x="210.06" y="355.8" font-size="10.5" text-anchor="middle" fill="#111" stroke="#111">0.1</text>
<text x="245.93" y="355.8" font-size="10.5" text-anchor="middle" fill="#111" stroke="#111">1</text>
<text x="281.8" y="355.8" font-size="10.5" text-anchor="middle" fill="#111" stroke="#111">10</text>
<text x="222.6" y="368.2" font-size="10.8" text-anchor="middle" fill="#111" stroke="#111">Period (s)</text>
<text x="301.7" y="355.8" font-size="10.5" text-anchor="middle" fill="#111" stroke="#111">0.01</text>
<text x="337.56" y="355.8" font-size="10.5" text-anchor="middle" fill="#111" stroke="#111">0.1</text>
<text x="373.43" y="355.8" font-size="10.5" text-anchor="middle" fill="#111" stroke="#111">1</text>
<text x="409.3" y="355.8" font-size="10.5" text-anchor="middle" fill="#111" stroke="#111">10</text>
<text x="350.1" y="368.2" font-size="10.8" text-anchor="middle" fill="#111" stroke="#111">Period (s)</text>
<text x="433.5" y="355.8" font-size="10.5" text-anchor="middle" fill="#111" stroke="#111">0.01</text>
<text x="469.36" y="355.8" font-size="10.5" text-anchor="middle" fill="#111" stroke="#111">0.1</text>
<text x="505.23" y="355.8" font-size="10.5" text-anchor="middle" fill="#111" stroke="#111">1</text>
<text x="541.1" y="355.8" font-size="10.5" text-anchor="middle" fill="#111" stroke="#111">10</text>
<text x="481.9" y="368.2" font-size="10.8" text-anchor="middle" fill="#111" stroke="#111">Period (s)</text>
<rect x="71.6" y="5.7" width="47.5" height="13.3" fill="#bbb"/>
<rect x="70.4" y="4.5" width="47.5" height="13.3" fill="#fff" stroke="#c8c8c8" stroke-width="1"/>
<text x="93.95" y="15" font-size="11" font-weight="bold" text-anchor="middle" fill="#111" stroke="#111"><tspan dx="0.9" style="font-family:DejaVu Sans;font-stretch:condensed">ξ</tspan><tspan dx="-0.9"> </tspan>= 1.0%</text>
<rect x="202.6" y="4" width="47.4" height="13.7" fill="#bbb"/>
<rect x="201.4" y="2.8" width="47.4" height="13.7" fill="#fff" stroke="#c8c8c8" stroke-width="1"/>
<text x="224.9" y="13.7" font-size="11" font-weight="bold" text-anchor="middle" fill="#111" stroke="#111"><tspan dx="0.9" style="font-family:DejaVu Sans;font-stretch:condensed">ξ</tspan><tspan dx="-0.9"> </tspan>= 3.0%</text>
<rect x="335.8" y="4" width="43.9" height="13.5" fill="#bbb"/>
<rect x="334.6" y="2.8" width="43.9" height="13.5" fill="#fff" stroke="#c8c8c8" stroke-width="1"/>
<text x="356.35" y="13.5" font-size="11" font-weight="bold" text-anchor="middle" fill="#111" stroke="#111"><tspan dx="0.9" style="font-family:DejaVu Sans;font-stretch:condensed">ξ</tspan><tspan dx="-0.9"> </tspan>= 10%</text>
<rect x="463.4" y="4.2" width="43.2" height="13.3" fill="#bbb"/>
<rect x="462.2" y="3" width="43.2" height="13.3" fill="#fff" stroke="#c8c8c8" stroke-width="1"/>
<text x="483.6" y="13.5" font-size="11" font-weight="bold" text-anchor="middle" fill="#111" stroke="#111"><tspan dx="0.9" style="font-family:DejaVu Sans;font-stretch:condensed">ξ</tspan><tspan dx="-0.9"> </tspan>= 30%</text>
<rect x="104.4" y="376.6" width="372.3" height="18.4" fill="#fff" stroke="#333" stroke-width="1"/>
<path d="M112.2 389.5H148.6" stroke="#111" stroke-width="1"/>
<path d="M239.4 389.3H275.8" stroke="#f00" stroke-width="1"/>
<path d="M369.5 389.3H405.8" stroke="#2222dd" stroke-width="1.2"/>
<text x="151" y="387.8" font-size="11" fill="#111" stroke="#111">(DRF for <tspan style="font-family:DejaVu Sans;font-stretch:condensed">ξ</tspan> = 5%)</text>
<text x="279.4" y="387.8" font-size="11" fill="#f22" stroke="#f22">0 &lt; R<tspan dy="3.2">rup</tspan><tspan dy="-3.2"> ≤ 30 km</tspan></text>
<text x="409.2" y="387.8" font-size="11" fill="#2222dd" stroke="#2222dd">R<tspan dy="3.2">rup</tspan><tspan dy="-3.2"> &gt; 30 km</tspan></text>
</svg></body></html>
